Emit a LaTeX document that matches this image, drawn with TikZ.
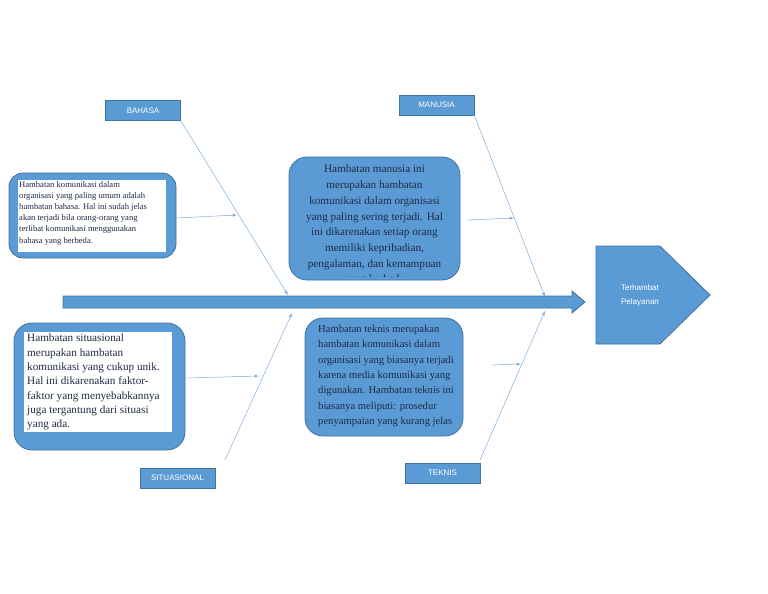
\documentclass[tikz,border=0pt]{standalone}
\usepackage{fontspec}
\setmainfont{Liberation Serif}
\newfontfamily\sansf{Liberation Sans}
\begin{document}
\begin{tikzpicture}[x=1pt,y=-1pt,
  blu/.style={fill=bfill,draw=bdraw,line width=0.8pt},
  lab/.style={blu,minimum width=75pt,minimum height=20pt,inner sep=0pt,text=white,font=\sansf\fontsize{8}{9}\selectfont},
  bone/.style={draw=lline,line width=0.5pt,-latex},
  txt/.style={text=tcol,align=left,inner sep=0pt}]
\definecolor{bfill}{HTML}{5B9BD5}
\definecolor{bdraw}{HTML}{41719C}
\definecolor{lline}{HTML}{7FAEDC}
\definecolor{tcol}{HTML}{1F2A44}
\useasboundingbox (0,0) rectangle (768,594);
% spine
\draw[blu] (63,296) -- (572,296) -- (572,291) -- (585,302) -- (572,313) -- (572,308) -- (63,308) -- cycle;
% head
\draw[blu] (596,246) -- (660,246) -- (710,295) -- (660,344) -- (596,344) -- cycle;
\node[text=white,font=\sansf\fontsize{8}{14}\selectfont,align=center] (head) at (640,295) {Terhambat\\Pelayanan};
% labels
\node[lab] (bahasa) at (143,110.5) {BAHASA};
\node[lab] (manusia) at (436.5,105) {MANUSIA};
\node[lab] (situ) at (177.5,478) {SITUASIONAL};
\node[lab] (teknis) at (442.5,473) {TEKNIS};
\coordinate (b1) at (288,295);
\coordinate (m1) at (545,297);
\coordinate (s0) at (225,460);
\coordinate (s1) at (292,313);
\coordinate (t0) at (480,460);
\coordinate (t1) at (545,311);
\draw[bone] (bahasa.south east) -- (b1);
\draw[bone] (manusia.south east) -- (m1);
\draw[bone] (s0) -- (s1);
\draw[bone] (t0) -- (t1);
% bahasa text box
\draw[blu,rounded corners=14pt] (9,173) rectangle (176,258);
\fill[white] (18,180) rectangle (166,252);
\node[txt,anchor=north west,font=\fontsize{8.6}{11.2}\selectfont] (bt) at (19,181) {Hambatan komunikasi dalam\\organisasi yang paling umum adalah\\hambatan bahasa. Hal ini sudah jelas\\akan terjadi bila orang-orang yang\\terlibat komunikasi menggunakan\\bahasa yang berbeda.};
\coordinate (bta) at (176,218);
\coordinate (btb) at (237,215);
\draw[bone] (bta) -- (btb);
% situasional box
\draw[blu,rounded corners=18pt] (14,323) rectangle (185,450);
\fill[white] (24,332) rectangle (172,432);
\node[txt,anchor=north west,font=\fontsize{11.2}{14.3}\selectfont] (st) at (27,334) {Hambatan situasional\\merupakan hambatan\\komunikasi yang cukup unik.\\Hal ini dikarenakan faktor-\\faktor yang menyebabkannya\\juga tergantung dari situasi\\yang ada.};
\coordinate (sta) at (187,378);
\coordinate (stb) at (259,376);
\draw[bone] (sta) -- (stb);
% manusia box
\draw[blu,rounded corners=18pt] (289,157) rectangle (460,280);
\begin{scope}
\clip (289,157) rectangle (460,276);
\node[txt,align=center,anchor=north,font=\fontsize{11.2}{15.7}\selectfont] (mt) at (374.5,165) {Hambatan manusia ini\\merupakan hambatan\\komunikasi dalam organisasi\\yang paling sering terjadi. Hal\\ini dikarenakan setiap orang\\memiliki kepribadian,\\pengalaman, dan kemampuan\\yang berbeda};
\end{scope}
\coordinate (mta) at (468,220);
\coordinate (mtb) at (514,218);
\draw[bone] (mta) -- (mtb);
% teknis box
\draw[blu,rounded corners=18pt] (305,318) rectangle (463,436);
\node[txt,anchor=north west,font=\fontsize{10.6}{15.3}\selectfont] (tt) at (318,325) {Hambatan teknis merupakan\\hambatan komunikasi dalam\\organisasi yang biasanya terjadi\\karena media komunikasi yang\\digunakan. Hambatan teknis ini\\biasanya meliputi: prosedur\\penyampaian yang kurang jelas};
\coordinate (tta) at (492,365);
\coordinate (ttb) at (521,364);
\draw[bone] (tta) -- (ttb);
\end{tikzpicture}
\end{document}
